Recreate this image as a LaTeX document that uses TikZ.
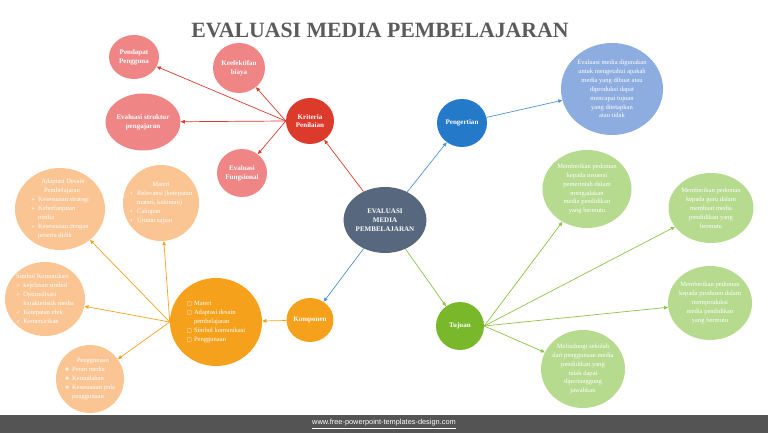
\documentclass[tikz,border=0pt]{standalone}
\usepackage{fontspec}
\setmainfont{Liberation Serif}
\newfontfamily\symf{DejaVu Sans}
\newfontfamily\webf{Liberation Sans}
\usetikzlibrary{shapes.geometric,arrows.meta}

\definecolor{slate}{HTML}{56677E}
\definecolor{redd}{HTML}{DC3B2C}
\definecolor{redl}{HTML}{EF8585}
\definecolor{blued}{HTML}{2479C9}
\definecolor{bluel}{HTML}{8DADE0}
\definecolor{greend}{HTML}{78B82A}
\definecolor{greenl}{HTML}{B6DB8F}
\definecolor{orad}{HTML}{F6A11C}
\definecolor{oral}{HTML}{FAC493}
\definecolor{titlegray}{HTML}{5B5B5B}
\definecolor{footgray}{HTML}{545454}

\newcommand\sm{\fontsize{5.6}{7.6}\selectfont}
\newcommand\lb{\bfseries\fontsize{6}{7.5}\selectfont}
\newcommand\bx[1]{\makebox[1.1em][l]{\symf\fontsize{4.5}{6}\selectfont#1}}

\begin{document}
\begin{tikzpicture}[x=0.03cm,y=-0.03cm,
  bub/.style={ellipse,inner sep=0pt,align=center,text=white,font=\lb},
  rd/.style={bub,fill=redd},
  rl/.style={bub,fill=redl},
  bd/.style={bub,fill=blued},
  bl/.style={bub,fill=bluel},
  gd/.style={bub,fill=greend},
  gl/.style={bub,fill=greenl},
  od/.style={bub,fill=orad},
  ol/.style={bub,fill=oral},
  txt/.style={text=white,font=\sm,align=center},
  lst/.style={text=white,font=\sm,align=left},
  ar/.style={-{Triangle[length=3.5pt,width=3pt]},line width=0.6pt}]
  \useasboundingbox (0,0) rectangle (768,433);

  \node[text=titlegray,font=\bfseries\fontsize{18.6}{20}\selectfont] (title) at (380,30) {EVALUASI MEDIA PEMBELAJARAN};

  \node[bub,fill=slate,minimum width=2.16cm,minimum height=1.98cm] (c) at (385,220) {EVALUASI\\MEDIA\\PEMBELAJARAN};

  \node[rd,minimum width=1.44cm,minimum height=1.38cm] (k) at (310,121) {Kriteria\\Penilaian};
  \node[rl,minimum width=1.5cm,minimum height=1.32cm] (pp) at (134,57) {Pendapat\\Pengguna};
  \node[rl,minimum width=1.56cm,minimum height=1.5cm] (kb) at (239,68) {Keefektifan\\biaya};
  \node[rl,minimum width=1.8cm,minimum height=1.71cm] (es) at (143,122) {Evaluasi struktur\\pengajaran};
  \node[rl,minimum width=1.5cm,minimum height=1.44cm] (ef) at (242,173) {Evaluasi\\Fungsional};

  \node[bd,minimum width=1.5cm,minimum height=1.44cm] (pg) at (462,123) {Pengertian};
  \node[bl,minimum width=3.06cm,minimum height=2.76cm,
    label={[txt]center:{Evaluasi media digunakan\\untuk mengetahui apakah\\media yang dibuat atau\\diproduksi dapat\\mencapai tujuan\\yang ditetapkan\\atau tidak}}] (df) at (612,89) {};

  \node[gd,minimum width=1.44cm,minimum height=1.44cm] (tj) at (460,326) {Tujuan};
  \node[gl,minimum width=2.67cm,minimum height=2.34cm,
    label={[txt]center:{Memberikan pedoman\\kepada instansi\\pemerintah dalam\\mengadakan\\media pendidikan\\yang bermutu}}] (g1) at (587,189) {};
  \node[gl,minimum width=2.55cm,minimum height=2.1cm,
    label={[txt]center:{Memberikan pedoman\\kepada guru dalam\\membuat media\\pendidikan yang\\bermutu}}] (g2) at (711,208) {};
  \node[gl,minimum width=2.52cm,minimum height=2.22cm,
    label={[txt]center:{Memberikan pedoman\\kepada produsen dalam\\memproduksi\\media pendidikan\\yang bermutu}}] (g3) at (710,303) {};
  \node[gl,minimum width=2.52cm,minimum height=2.34cm,
    label={[txt]center:{Melindungi sekolah\\dari penggunaan media\\pendidikan yang\\tidak dapat\\dipertanggung\\jawabkan}}] (g4) at (583,369) {};

  \node[od,minimum width=1.38cm,minimum height=1.32cm] (km) at (310,320) {Komponen};
  \node[od,minimum width=2.76cm,minimum height=2.64cm,
    label={[lst]center:{\bx{□}Materi\\\bx{□}Adaptasi desain\\\hspace*{1.1em}pembelajaran\\\bx{□}Simbol komunikasi\\\bx{□}Penggunaan}}] (o) at (216,322) {};
  \node[ol,minimum width=2.7cm,minimum height=2.46cm,
    label={[lst]center:{\hspace*{1.6em}Adaptasi Desain\\\hspace*{2em}Pembelajaran\\\bx{➢}Kesesuaian strategi\\\bx{➢}Keberlanjutan\\\hspace*{1.1em}media\\\bx{➢}Kesesuaian dengan\\\hspace*{1.1em}peserta didik}}] (ad) at (60,209) {};
  \node[ol,minimum width=2.28cm,minimum height=2.28cm,
    label={[lst]center:{\hspace*{3.4em}Materi\\\bx{•}Relevansi (ketepatan\\\hspace*{1.1em}materi, kekinian)\\\bx{•}Cakupan\\\bx{•}Urutan sajian}}] (mt) at (161,203) {};
  \node[ol,minimum width=2.4cm,minimum height=2.22cm,
    label={[lst]center:{Simbol Komunikasi\\\bx{✓}kejelasan simbol\\\bx{✓}Optimalisasi\\\hspace*{1.1em}karakteristik media\\\bx{✓}Ketepatan efek\\\bx{✓}Kemenarikan}}] (sk) at (45,299) {};
  \node[ol,minimum width=2.04cm,minimum height=2.04cm,
    label={[lst]center:{\hspace*{1.8em}Penggunaan\\\bx{❖}Peran media\\\bx{❖}Kemudahan\\\bx{❖}Kesesuaian pola\\\hspace*{1.1em}penggunaan}}] (pu) at (90,379) {};

  \draw[ar,redd] (c) -- (k);
  \draw[ar,redd] (k.west) -- (pp);
  \draw[ar,redd] (k.west) -- (kb);
  \draw[ar,redd] (k.west) -- (es);
  \draw[ar,redd] (k.west) -- (ef);

  \draw[ar,blued!80] (c) -- (pg);
  \draw[ar,blued!80] (pg) -- (df);
  \draw[ar,blued!80] (c) -- (km);

  \draw[ar,orad] (km) -- (o);
  \draw[ar,orad] (o.west) -- (ad);
  \draw[ar,orad] (o.west) -- (mt);
  \draw[ar,orad] (o.west) -- (sk);
  \draw[ar,orad] (o.west) -- (pu);

  \draw[ar,greend!85] (c) -- (tj);
  \draw[ar,greend!85] (tj.east) -- (g1);
  \draw[ar,greend!85] (tj.east) -- (g2);
  \draw[ar,greend!85] (tj.east) -- (g3);
  \draw[ar,greend!85] (tj.east) -- (g4);

  \fill[footgray] (0,415) rectangle (768,433);
  \node[text=white,font=\webf\fontsize{6.3}{7}\selectfont] (web) at (384,424) {\underline{www.free-powerpoint-templates-design.com}};
\end{tikzpicture}
\end{document}
